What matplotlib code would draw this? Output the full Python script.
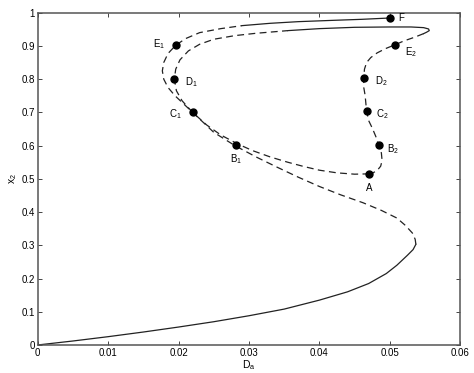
"""
Diagrama de bifurcacion x2 vs Da: curva S principal e isla cerrada.
"""

import numpy as np
import matplotlib
matplotlib.use("Agg")
import matplotlib.pyplot as plt

plt.rcParams['font.family'] = ['Liberation Sans', 'DejaVu Sans']
plt.rcParams['mathtext.fontset'] = 'custom'
plt.rcParams['mathtext.rm'] = 'Liberation Sans'
plt.rcParams['mathtext.it'] = 'Liberation Sans'

# --- curva principal (rama estable inferior) ---
low_Da = [0.0, 0.005, 0.010, 0.015, 0.020, 0.025, 0.030, 0.035, 0.040, 0.044,
          0.047, 0.0495, 0.051, 0.0525, 0.0533, 0.0537]
low_x2 = [0.0, 0.012, 0.025, 0.039, 0.054, 0.070, 0.088, 0.108, 0.135, 0.160,
          0.185, 0.215, 0.240, 0.270, 0.287, 0.303]

# --- rama inestable (discontinua) de la curva principal ---
mid_Da = [0.0537, 0.0536, 0.0532, 0.0522, 0.051, 0.0488, 0.0462, 0.043, 0.040,
          0.037, 0.034, 0.031, 0.028, 0.025, 0.0225, 0.021, 0.0195, 0.0185, 0.0179,
          0.0177, 0.0179, 0.0185, 0.0196, 0.021, 0.023, 0.026, 0.029]
mid_x2 = [0.303, 0.318, 0.337, 0.360, 0.382, 0.405, 0.428, 0.452, 0.477,
          0.505, 0.535, 0.566, 0.600, 0.640, 0.690, 0.720, 0.750, 0.775, 0.800,
          0.825, 0.850, 0.877, 0.902, 0.922, 0.940, 0.952, 0.961]

# --- rama superior estable hasta F ---
top_Da = [0.029, 0.033, 0.037, 0.042, 0.046, 0.050]
top_x2 = [0.961, 0.968, 0.973, 0.977, 0.980, 0.984]

# --- isla: rama discontinua A -> B1 -> ... -> lado interior ---
isl_a_Da = [0.0471, 0.045, 0.0425, 0.040, 0.0378, 0.0355, 0.033, 0.0305, 0.0283, 0.026,
            0.024, 0.022, 0.0205, 0.0197, 0.0194, 0.0196, 0.0202, 0.0214, 0.023, 0.025,
            0.028, 0.031, 0.0344, 0.0355]
isl_a_x2 = [0.515, 0.514, 0.518, 0.526, 0.537, 0.550, 0.566, 0.585, 0.606, 0.632,
            0.662, 0.700, 0.735, 0.765, 0.800, 0.830, 0.858, 0.885, 0.905, 0.920,
            0.931, 0.938, 0.944, 0.946]

# --- isla: tramo estable superior ---
isl_s_Da = [0.0355, 0.040, 0.045, 0.050, 0.053, 0.0548, 0.0555, 0.0556, 0.0552, 0.0548]
isl_s_x2 = [0.946, 0.952, 0.956, 0.957, 0.957, 0.955, 0.951, 0.946, 0.941, 0.937]

# --- isla: rama discontinua derecha E2 -> A ---
isl_b_Da = [0.0548, 0.0535, 0.052, 0.0508, 0.0494, 0.0482, 0.0473, 0.0467, 0.0464, 0.0463,
            0.0463, 0.0465, 0.0467, 0.047, 0.0475, 0.048, 0.0484, 0.0488, 0.0489, 0.0487,
            0.0482, 0.0476, 0.0471]
isl_b_x2 = [0.937, 0.926, 0.915, 0.904, 0.892, 0.879, 0.865, 0.850, 0.830, 0.802,
            0.775, 0.750, 0.703, 0.675, 0.653, 0.628, 0.602, 0.578, 0.555, 0.538,
            0.525, 0.518, 0.515]

# --- puntos etiquetados ---
pt_names = ['E$_1$', 'D$_1$', 'C$_1$', 'B$_1$', 'F', 'E$_2$', 'D$_2$', 'C$_2$', 'B$_2$', 'A']
pt_Da = [0.0196, 0.0194, 0.0220, 0.0281, 0.0500, 0.0508, 0.0463, 0.0467, 0.0484, 0.0471]
pt_x2 = [0.904, 0.800, 0.702, 0.601, 0.984, 0.903, 0.802, 0.703, 0.602, 0.515]
pt_off = [(-8, 0, 'right'), (8, -2, 'left'), (-8, -2, 'right'), (0, -10, 'center'),
          (6, 0, 'left'), (7, -5, 'left'), (8, -2, 'left'), (7, -2, 'left'),
          (6, -3, 'left'), (0, -10, 'center')]

fig = plt.figure(figsize=(4.74, 3.73), dpi=100)
ax = fig.add_axes([0.0795, 0.0751, 0.8915, 0.8909])

lc = '#222222'
dash = (5.5, 3.5)
ax.plot(low_Da, low_x2, color=lc, lw=0.9)
ax.plot(mid_Da, mid_x2, color=lc, lw=0.9, dashes=dash)
ax.plot(top_Da, top_x2, color=lc, lw=0.9)
ax.plot(isl_a_Da, isl_a_x2, color=lc, lw=0.9, dashes=dash)
ax.plot(isl_s_Da, isl_s_x2, color=lc, lw=0.9)
ax.plot(isl_b_Da, isl_b_x2, color=lc, lw=0.9, dashes=dash)

ax.plot(pt_Da, pt_x2, 'o', color='black', ms=5, zorder=5)
for name, d, x, (dx, dy, ha) in zip(pt_names, pt_Da, pt_x2, pt_off):
    ax.annotate(name, (d, x), xytext=(dx, dy), textcoords='offset points',
                ha=ha, va='center', fontsize=7)

ax.set_xlim(0, 0.06)
ax.set_ylim(0, 1)
ax.set_xticks(np.arange(0, 0.061, 0.01))
ax.set_xticklabels(['0', '0.01', '0.02', '0.03', '0.04', '0.05', '0.06'])
ax.set_yticks(np.arange(0, 1.01, 0.1))
ax.set_yticklabels(['0', '0.1', '0.2', '0.3', '0.4', '0.5', '0.6', '0.7', '0.8', '0.9', '1'])
ax.tick_params(direction='in', length=3, width=0.7, labelsize=7, top=True, right=True,
               pad=2, color='#444444')
for s in ax.spines.values():
    s.set_color('#555555')
    s.set_linewidth(1.1)

ax.set_xlabel('D$_a$', fontsize=7.5, labelpad=0)
ax.set_ylabel('x$_2$', fontsize=7.5, labelpad=2)

fig.savefig('out.png', dpi=100)
